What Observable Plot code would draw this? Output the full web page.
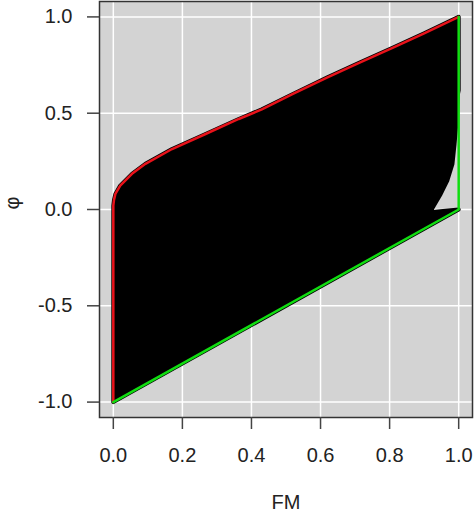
<!DOCTYPE html>
<html>
<head>
<meta charset="utf-8">
<script src="https://cdn.jsdelivr.net/npm/d3@7"></script>
<script src="https://cdn.jsdelivr.net/npm/@observablehq/plot@0.6"></script>
<style>
  html, body { margin: 0; padding: 0; background: #ffffff; }
  #chart svg { display: block; }
</style>
</head>
<body>
<div id="chart"></div>
<script>
// Upper bound (red curve): FM vs phi
const redFM  = [0, 0, 0.002, 0.006, 0.02, 0.054, 0.093, 0.17, 0.267, 0.363, 0.43, 0.52, 0.62, 0.71, 0.81, 0.90, 1.0];
const redPhi = [-1, 0.02, 0.05, 0.081, 0.124, 0.185, 0.237, 0.314, 0.392, 0.47, 0.52, 0.60, 0.686, 0.76, 0.841, 0.915, 1.0];

// Lower bound (green): diagonal then vertical at FM = 1
const greenFM  = [0, 1, 1];
const greenPhi = [-1, 0, 1];

// Right-hand edge of the point cloud (the empty notch near FM = 1)
const notchFM  = [1, 0.998, 0.994, 0.988, 0.982, 0.967, 0.948, 0.917, 1.0];
const notchPhi = [0.62, 0.60, 0.461, 0.34, 0.237, 0.15, 0.081, -0.014, 0.0];

// Axis ticks
const xTicks = [0, 0.2, 0.4, 0.6, 0.8, 1.0];
const yTicks = [-1, -0.5, 0, 0.5, 1];

const red = redFM.map((x, i) => ({FM: x, phi: redPhi[i]}));
const green = greenFM.map((x, i) => ({FM: x, phi: greenPhi[i]}));
const notch = notchFM.map((x, i) => ({FM: x, phi: notchPhi[i]}));
// cloud outline: red upper edge, notch, back along the green diagonal to start
const cloud = [...red, ...notch, {FM: greenFM[0], phi: greenPhi[0]}];

const fmt = d => d.toFixed(1);

const chart = Plot.plot({
  width: 474,
  height: 516,
  marginLeft: 99,
  marginRight: 2,
  marginTop: 1,
  marginBottom: 99,
  style: {fontFamily: "'Liberation Sans', Arial, Helvetica, sans-serif", fontSize: "20px", background: "#ffffff", color: "#222"},
  x: {domain: [-0.04, 1.04]},
  y: {domain: [-1.08, 1.08]},
  marks: [
    Plot.frame({fill: "#d3d3d3", stroke: "none"}),
    Plot.gridX(xTicks, {stroke: "#ffffff", strokeOpacity: 1, strokeWidth: 1.5}),
    Plot.gridY(yTicks, {stroke: "#ffffff", strokeOpacity: 1, strokeWidth: 1.5}),
    Plot.line(cloud, {x: "FM", y: "phi", fill: "#000000", stroke: "#000000", strokeWidth: 4, strokeLinejoin: "round", curve: "linear"}),
    Plot.line(red, {x: "FM", y: "phi", stroke: "#e8121a", strokeWidth: 2.5, curve: "linear"}),
    Plot.line(green, {x: "FM", y: "phi", stroke: "#11dd11", strokeWidth: 2.5, curve: "linear"}),
    Plot.frame({stroke: "#333333", strokeWidth: 1.5}),
    Plot.axisX(xTicks, {tickSize: 12, tickPadding: 18, stroke: "#444", strokeWidth: 1.5, tickFormat: fmt, label: null, fontSize: 20}),
    Plot.axisY(yTicks, {tickSize: 12, tickPadding: 15, stroke: "#444", strokeWidth: 1.5, tickFormat: fmt, label: null, fontSize: 20}),
    Plot.text(["FM"], {frameAnchor: "bottom", dy: 91, fontSize: 20, fill: "#222"}),
    Plot.text(["φ"], {frameAnchor: "left", dx: -87, rotate: -90, fontSize: 20, fill: "#222"})
  ]
});
document.getElementById("chart").appendChild(chart);
</script>
</body>
</html>
